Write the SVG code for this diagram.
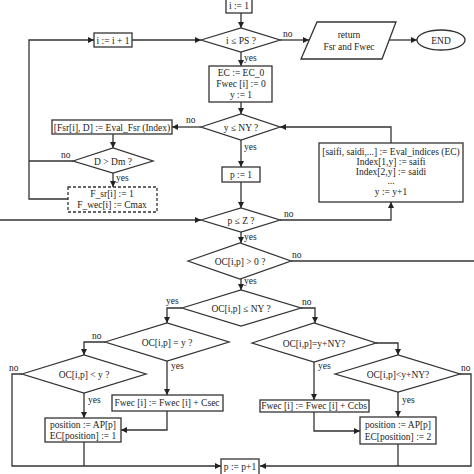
<svg xmlns="http://www.w3.org/2000/svg" width="474" height="474" viewBox="0 0 474 474">
<defs>
<marker id="ah" viewBox="0 0 10 10" refX="10" refY="5" markerWidth="6" markerHeight="6" orient="auto" markerUnits="userSpaceOnUse">
<path d="M0,0 L10,5 L0,10 z" fill="#222"/>
</marker>
</defs>
<style>
.s{fill:#fff;stroke:#333;stroke-width:1.3}
.d{fill:#fff;stroke:#333;stroke-width:1.3;stroke-dasharray:3,2}
.c{fill:none;stroke:#333;stroke-width:1.3}
.a{marker-end:url(#ah)}
text{font-family:"Liberation Serif","Times New Roman",serif;font-size:9.5px;fill:#222}
.m{text-anchor:middle}
</style>
<rect width="474" height="474" fill="#fff"/>
<g id="connectors">
<path class="c a" d="M241,13 V28"/>
<path class="c a" d="M280,40 H309"/>
<path class="c a" d="M389,40 H417"/>
<path class="c a" d="M241,52 V66"/>
<path class="c a" d="M241,102 V114"/>
<path class="c a" d="M201,127 H172"/>
<path class="c a" d="M391,143 V127 H280"/>
<path class="c a" d="M113,134 V148"/>
<path class="c" d="M73,161 H29"/>
<path class="c a" d="M113,173 V187"/>
<path class="c a" d="M68,199 H29 V40 H94"/>
<path class="c a" d="M132,40 H201"/>
<path class="c a" d="M241,140 V167"/>
<path class="c a" d="M241,182 V208"/>
<path class="c a" d="M0,220 H201"/>
<path class="c a" d="M280,220 H391 V202"/>
<path class="c a" d="M241,232 V243"/>
<path class="c" d="M291,261 H474"/>
<path class="c a" d="M241,279 V290"/>
<path class="c a" d="M182,308 H167 V323"/>
<path class="c a" d="M301,308 H315 V323"/>
<path class="c a" d="M105,342 H84 V355"/>
<path class="c a" d="M22,374 H12 V466 H221"/>
<path class="c a" d="M84,393 V418"/>
<path class="c" d="M84,442 V466"/>
<path class="c a" d="M167,361 V395"/>
<path class="c a" d="M167,411 V430 H121"/>
<path class="c a" d="M376,343 H398 V355"/>
<path class="c a" d="M460,374 H471 V466 H260"/>
<path class="c a" d="M314,362 V400"/>
<path class="c a" d="M314,412 V431 H360"/>
<path class="c a" d="M398,392 V417"/>
<path class="c" d="M398,444 V466"/>
</g>
<g id="labels">
<text x="283" y="37">no</text>
<text x="244" y="61">yes</text>
<text x="186" y="123">no</text>
<text x="244" y="150">yes</text>
<text x="61" y="158">no</text>
<text x="116" y="181">yes</text>
<text x="284" y="217">no</text>
<text x="244" y="240">yes</text>
<text x="292" y="258">no</text>
<text x="244" y="284">yes</text>
<text x="166" y="304">yes</text>
<text x="302" y="305">no</text>
<text x="92" y="339">no</text>
<text x="171" y="369">yes</text>
<text x="9" y="371">no</text>
<text x="88" y="403">yes</text>
<text x="318" y="369">yes</text>
<text x="461" y="371">no</text>
<text x="402" y="403">yes</text>
</g>
<g id="n_i1"><rect class="s" x="226" y="-2" width="26" height="15"/><text class="m" x="239" y="9">i := 1</text></g>
<g id="n_ips"><polygon class="s" points="201,40 241,28 280,40 241,52"/><text class="m" x="241" y="44">i ≤ PS ?</text></g>
<g id="n_ret"><polygon class="s" points="317,22 396,22 382,59 301,59"/><text class="m" x="349" y="38">return</text><text class="m" x="349" y="50">Fsr and Fwec</text></g>
<g id="n_end"><ellipse class="s" cx="441" cy="40" rx="24" ry="10"/><text class="m" x="441" y="44">END</text></g>
<g id="n_inc"><rect class="s" x="94" y="33" width="38" height="14"/><text class="m" x="113" y="44">i := i + 1</text></g>
<g id="n_ec"><rect class="s" x="209" y="66" width="63" height="36"/><text class="m" x="241" y="76">EC := EC_0</text><text class="m" x="241" y="87">Fwec [i] := 0</text><text class="m" x="241" y="98">y := 1</text></g>
<g id="n_yny"><polygon class="s" points="201,127 241,114 280,127 241,140"/><text class="m" x="241" y="131">y ≤ NY ?</text></g>
<g id="n_fsr"><rect class="s" x="52" y="120" width="120" height="14"/><text class="m" x="112" y="131">[Fsr[i], D] := Eval_Fsr (Index)</text></g>
<g id="n_ddm"><polygon class="s" points="73,161 113,148 153,161 113,173"/><text class="m" x="113" y="165">D &gt; Dm ?</text></g>
<g id="n_fsr1"><rect class="d" x="68" y="187" width="89" height="25"/><text class="m" x="112" y="197">F_sr[i] := 1</text><text class="m" x="112" y="208">F_wec[i] := Cmax</text></g>
<g id="n_p1"><rect class="s" x="222" y="167" width="38" height="15"/><text class="m" x="241" y="178">p := 1</text></g>
<g id="n_eval"><rect class="s" x="319" y="143" width="144" height="59"/><text class="m" x="391" y="155">[saifi, saidi,...] := Eval_indices (EC)</text><text class="m" x="391" y="165">Index[1,y] := saifi</text><text class="m" x="391" y="175">Index[2,y] := saidi</text><text class="m" x="391" y="184">...</text><text class="m" x="391" y="195">y := y+1</text></g>
<g id="n_pz"><polygon class="s" points="201,220 241,208 280,220 241,232"/><text class="m" x="241" y="224">p ≤ Z ?</text></g>
<g id="n_oc0"><polygon class="s" points="188,261 240,243 291,261 240,279"/><text class="m" x="240" y="265">OC[i,p] &gt; 0 ?</text></g>
<g id="n_ocny"><polygon class="s" points="182,308 241,290 301,308 241,326"/><text class="m" x="241" y="312">OC[i,p] ≤ NY ?</text></g>
<g id="n_ocy"><polygon class="s" points="105,342 167,323 229,342 167,361"/><text class="m" x="167" y="346">OC[i,p] = y ?</text></g>
<g id="n_ocly"><polygon class="s" points="22,374 84,355 146,374 84,393"/><text class="m" x="84" y="378">OC[i,p] &lt; y ?</text></g>
<g id="n_pos1"><rect class="s" x="45" y="418" width="76" height="24"/><text class="m" x="83" y="428">position := AP[p]</text><text class="m" x="83" y="439">EC[position] := 1</text></g>
<g id="n_csec"><rect class="s" x="112" y="395" width="111" height="16"/><text class="m" x="167" y="406">Fwec [i] := Fwec [i] + Csec</text></g>
<g id="n_ocyny"><polygon class="s" points="252,343 314,323 376,343 314,362"/><text class="m" x="314" y="347">OC[i,p]=y+NY?</text></g>
<g id="n_oclyny"><polygon class="s" points="335,374 398,355 460,374 398,392"/><text class="m" x="398" y="378">OC[i,p]&lt;y+NY?</text></g>
<g id="n_ccbs"><rect class="s" x="260" y="400" width="109" height="12"/><text class="m" x="314" y="409">Fwec [i] := Fwec [i] + Ccbs</text></g>
<g id="n_pos2"><rect class="s" x="360" y="417" width="76" height="27"/><text class="m" x="398" y="428">position := AP[p]</text><text class="m" x="398" y="440">EC[position] := 2</text></g>
<g id="n_pinc"><rect class="s" x="221" y="459" width="38" height="17"/><text class="m" x="240" y="470">p := p+1</text></g>
</svg>
